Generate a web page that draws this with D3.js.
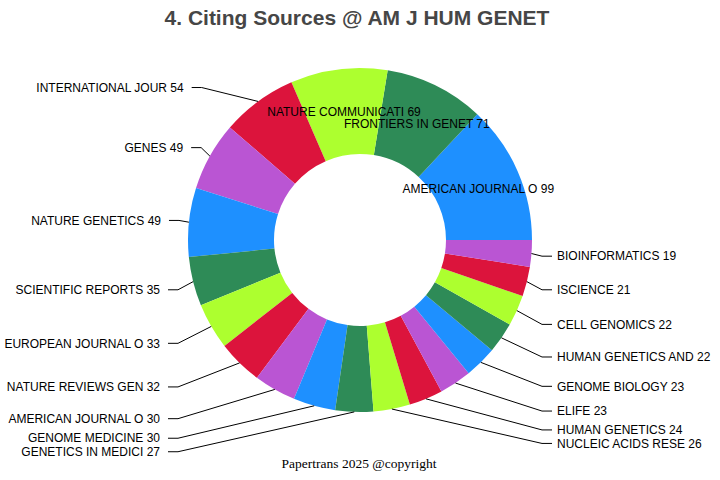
<!DOCTYPE html>
<html>
<head>
<meta charset="utf-8">
<script src="https://cdn.jsdelivr.net/npm/d3@7"></script>
<style>
  body { margin: 0; background: #fff; }
  svg { display: block; }
</style>
</head>
<body>
<div id="chart"></div>
<script>
// sources, sorted by citing count (largest first)
const sources = [
  'AMERICAN JOURNAL O', 'FRONTIERS IN GENET', 'NATURE COMMUNICATI', 'INTERNATIONAL JOUR',
  'GENES', 'NATURE GENETICS', 'SCIENTIFIC REPORTS', 'EUROPEAN JOURNAL O',
  'NATURE REVIEWS GEN', 'AMERICAN JOURNAL O', 'GENOME MEDICINE', 'GENETICS IN MEDICI',
  'NUCLEIC ACIDS RESE', 'HUMAN GENETICS', 'ELIFE', 'GENOME BIOLOGY',
  'HUMAN GENETICS AND', 'CELL GENOMICS', 'ISCIENCE', 'BIOINFORMATICS'
];
const counts = [99, 71, 69, 54, 49, 49, 35, 33, 32, 30, 30, 27, 26, 24, 23, 23, 22, 22, 21, 19];
const palette = ['#1E90FF', '#2E8B57', '#ADFF2F', '#DC143C', '#BA55D3'];

const title = '4. Citing Sources @ AM J HUM GENET';
const footer = 'Papertrans 2025 @copyright';

const width = 720;
const height = 480;
const cx = 360, cy = 240;
const outerR = 172;
const innerR = outerR * 0.5;
const len1 = 10;   // first (radial) piece of the leader line
const len2 = 10;   // horizontal piece
const insideMin = 60; // big slices keep their label inside

const data = sources.map((name, i) => ({ name, value: counts[i], i }));

const color = d3.scaleOrdinal().domain(d3.range(data.length)).range(palette);

const svg = d3.select('#chart')
  .append('svg')
  .attr('width', width)
  .attr('height', height)
  .attr('viewBox', [0, 0, width, height]);

// counter-clockwise from 3 o'clock
const pie = d3.pie()
  .sort(null)
  .value(d => d.value)
  .startAngle(Math.PI / 2)
  .endAngle(Math.PI / 2 - 2 * Math.PI);

const arcs = pie(data);

const arc = d3.arc().innerRadius(innerR).outerRadius(outerR);

const g = svg.append('g').attr('transform', `translate(${cx},${cy})`);

g.selectAll('path.slice')
  .data(arcs)
  .join('path')
    .attr('class', 'slice')
    .attr('d', arc)
    .attr('fill', d => color(d.data.i));

// inside labels
g.selectAll('text.inside')
  .data(arcs.filter(d => d.data.value >= insideMin))
  .join('text')
    .attr('class', 'inside')
    .attr('transform', d => `translate(${arc.centroid(d)})`)
    .attr('text-anchor', 'middle')
    .attr('dy', '0.35em')
    .attr('font-family', 'Arial, "Liberation Sans", sans-serif')
    .attr('font-size', 12)
    .attr('fill', '#000')
    .text(d => `${d.data.name} ${d.data.value}`);

// outside labels: leader line from the rim, bent to a horizontal tail
const outside = arcs.filter(d => d.data.value < insideMin).map(d => {
  const a = (d.startAngle + d.endAngle) / 2;
  const sx = Math.sin(a), sy = -Math.cos(a);
  const side = sx >= 0 ? 1 : -1;
  const lower = sy > 0;
  const re = outerR + len1;
  return {
    d, side, lower,
    px: sx * outerR, py: sy * outerR,
    ex: side * (lower ? re : Math.max(Math.abs(sx) * re, 0.87 * re)),
    ly: sy * re * (lower ? 1.13 : 1.04)
  };
});

// keep labels apart vertically
const minGap = 13.5;
[1, -1].forEach(side => {
  const low = outside.filter(o => o.side === side && o.lower).sort((a, b) => a.ly - b.ly);
  for (let k = 1; k < low.length; k++) {
    if (low[k].ly - low[k - 1].ly < minGap) low[k].ly = low[k - 1].ly + minGap;
  }
  const up = outside.filter(o => o.side === side && !o.lower).sort((a, b) => b.ly - a.ly);
  for (let k = 1; k < up.length; k++) {
    if (up[k - 1].ly - up[k].ly < minGap) up[k].ly = up[k - 1].ly - minGap;
  }
});

g.selectAll('path.leader')
  .data(outside)
  .join('path')
    .attr('class', 'leader')
    .attr('d', o => {
      const p = d3.path();
      p.moveTo(o.px, o.py);
      p.lineTo(o.ex, o.ly);
      p.lineTo(o.ex + o.side * len2, o.ly);
      return p.toString();
    })
    .attr('fill', 'none')
    .attr('stroke', '#000')
    .attr('stroke-width', 1);

g.selectAll('text.outside')
  .data(outside)
  .join('text')
    .attr('class', 'outside')
    .attr('x', o => o.ex + o.side * (len2 + (o.side > 0 ? 5 : 8)))
    .attr('y', o => o.ly)
    .attr('dy', '0.35em')
    .attr('text-anchor', o => o.side > 0 ? 'start' : 'end')
    .attr('font-family', 'Arial, "Liberation Sans", sans-serif')
    .attr('font-size', 12)
    .attr('fill', '#000')
    .text(o => `${o.d.data.name} ${o.d.data.value}`);

svg.append('text')
  .attr('x', width / 2 - 3)
  .attr('y', 25)
  .attr('text-anchor', 'middle')
  .attr('font-family', 'Arial, "Liberation Sans", sans-serif')
  .attr('font-size', 21)
  .attr('font-weight', 'bold')
  .attr('fill', '#464646')
  .text(title);

svg.append('text')
  .attr('x', width / 2 - 1)
  .attr('y', 468)
  .attr('text-anchor', 'middle')
  .attr('font-family', '"Times New Roman", "Liberation Serif", serif')
  .attr('font-size', 13.5)
  .attr('fill', '#000')
  .text(footer);
</script>
</body>
</html>
